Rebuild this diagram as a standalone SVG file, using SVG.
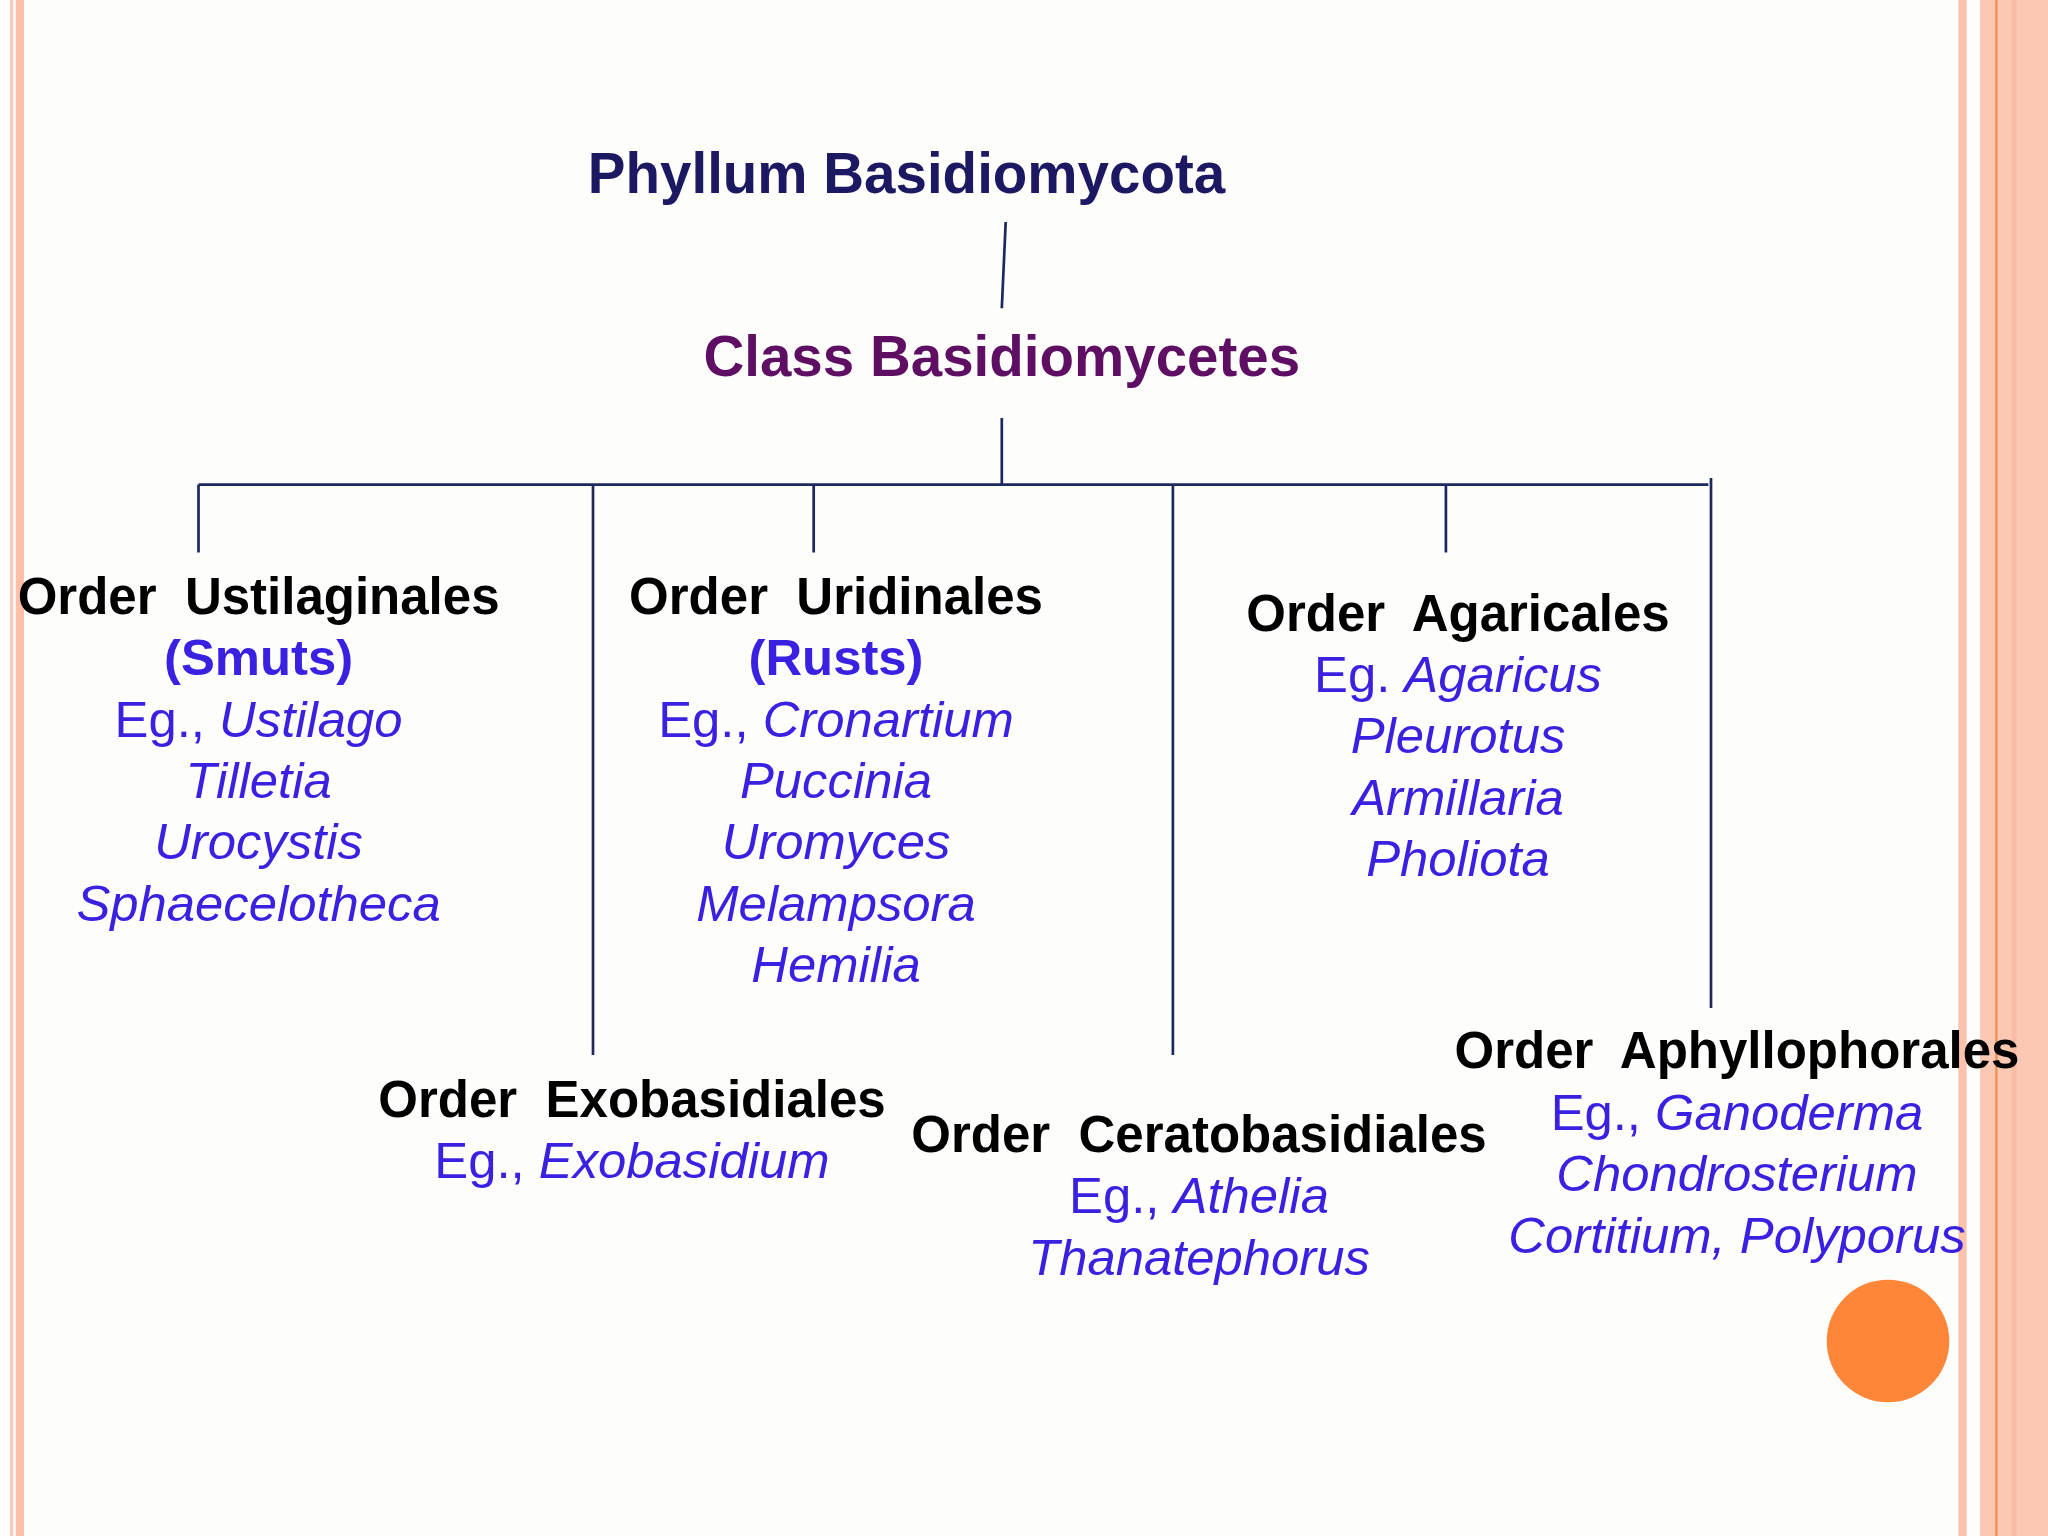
<svg xmlns="http://www.w3.org/2000/svg" width="2048" height="1536" viewBox="0 0 2048 1536">
<style>
  text { font-family: "Liberation Sans", Arial, sans-serif; text-anchor: middle; white-space: pre; }
  .h1 { font-size: 56.5px; font-weight: bold; fill: #1d1862; }
  .h2 { font-size: 56.5px; font-weight: bold; fill: #5f0f63; }
  .ord { font-size: 51px; font-weight: bold; fill: #000000; }
  .grp { font-size: 50.8px; font-weight: bold; fill: #3a20e0; }
  .eg { font-size: 50.8px; fill: #3a20e0; }
  .it { font-style: italic; }
  .conn line { stroke: #1c285e; stroke-width: 2.7; stroke-linecap: butt; }
</style>
<rect x="0" y="0" width="2048" height="1536" fill="#fdfefc"/>
<g id="left-border">
  <rect x="10" y="0" width="3.3" height="1536" fill="#f8cbbe"/>
  <rect x="15.7" y="0" width="8.3" height="1536" fill="#fdbfa8"/>
</g>
<g id="right-border">
  <rect x="1958.3" y="0" width="8.4" height="1536" fill="#fbc3ae"/>
  <rect x="1980" y="0" width="68" height="1536" fill="#fbc8b3"/>
  <rect x="2011.7" y="0" width="5" height="1536" fill="#fabda4"/>
  <rect x="1995.3" y="0" width="2.2" height="1536" fill="#f08c4e"/>
</g>
<g id="connectors" class="conn">
  <line x1="1005.7" y1="222" x2="1001.8" y2="308.2"/>
  <line x1="1001.8" y1="418" x2="1001.8" y2="484.6"/>
  <line x1="198.5" y1="484.6" x2="1708.4" y2="484.6"/>
  <line x1="198.5" y1="484.6" x2="198.5" y2="552.5"/>
  <line x1="593" y1="484.6" x2="593" y2="1055"/>
  <line x1="813.7" y1="484.6" x2="813.7" y2="552.5"/>
  <line x1="1172.9" y1="484.6" x2="1172.9" y2="1055"/>
  <line x1="1445.9" y1="484.6" x2="1445.9" y2="552.5"/>
  <line x1="1711" y1="478" x2="1711" y2="1008"/>
</g>
<g id="phyllum">
  <text class="h1" x="906.5" y="193.3">Phyllum Basidiomycota</text>
</g>
<g id="class">
  <text class="h2" x="1001.8" y="376">Class Basidiomycetes</text>
</g>
<g id="ustilaginales">
  <text class="ord" x="258.6" y="614">Order  Ustilaginales</text>
  <text class="grp" x="258.6" y="675.3">(Smuts)</text>
  <text class="eg" x="258.6" y="736.6">Eg., <tspan class="it">Ustilago</tspan></text>
  <text class="eg it" x="258.6" y="798">Tilletia</text>
  <text class="eg it" x="258.6" y="859.4">Urocystis</text>
  <text class="eg it" x="258.6" y="920.8">Sphaecelotheca</text>
</g>
<g id="uridinales">
  <text class="ord" x="836" y="614">Order  Uridinales</text>
  <text class="grp" x="836" y="675.3">(Rusts)</text>
  <text class="eg" x="836" y="736.6">Eg., <tspan class="it">Cronartium</tspan></text>
  <text class="eg it" x="836" y="798">Puccinia</text>
  <text class="eg it" x="836" y="859.4">Uromyces</text>
  <text class="eg it" x="836" y="920.8">Melampsora</text>
  <text class="eg it" x="836" y="982.2">Hemilia</text>
</g>
<g id="agaricales">
  <text class="ord" x="1458" y="631">Order  Agaricales</text>
  <text class="eg" x="1458" y="692">Eg. <tspan class="it">Agaricus</tspan></text>
  <text class="eg it" x="1458" y="753.4">Pleurotus</text>
  <text class="eg it" x="1458" y="814.8">Armillaria</text>
  <text class="eg it" x="1458" y="876.2">Pholiota</text>
</g>
<g id="exobasidiales">
  <text class="ord" x="632" y="1116.7">Order  Exobasidiales</text>
  <text class="eg" x="632" y="1177.6">Eg., <tspan class="it">Exobasidium</tspan></text>
</g>
<g id="ceratobasidiales">
  <text class="ord" x="1199" y="1152">Order  Ceratobasidiales</text>
  <text class="eg" x="1199" y="1213">Eg., <tspan class="it">Athelia</tspan></text>
  <text class="eg it" x="1199" y="1274.5">Thanatephorus</text>
</g>
<g id="aphyllophorales">
  <text class="ord" x="1737" y="1068.4">Order  Aphyllophorales</text>
  <text class="eg" x="1737" y="1129.8">Eg., <tspan class="it">Ganoderma</tspan></text>
  <text class="eg it" x="1737" y="1191.2">Chondrosterium</text>
  <text class="eg it" x="1737" y="1252.6">Cortitium, Polyporus</text>
</g>
<g id="dot">
  <circle cx="1888" cy="1341" r="61.3" fill="#fd8639"/>
</g>
</svg>
